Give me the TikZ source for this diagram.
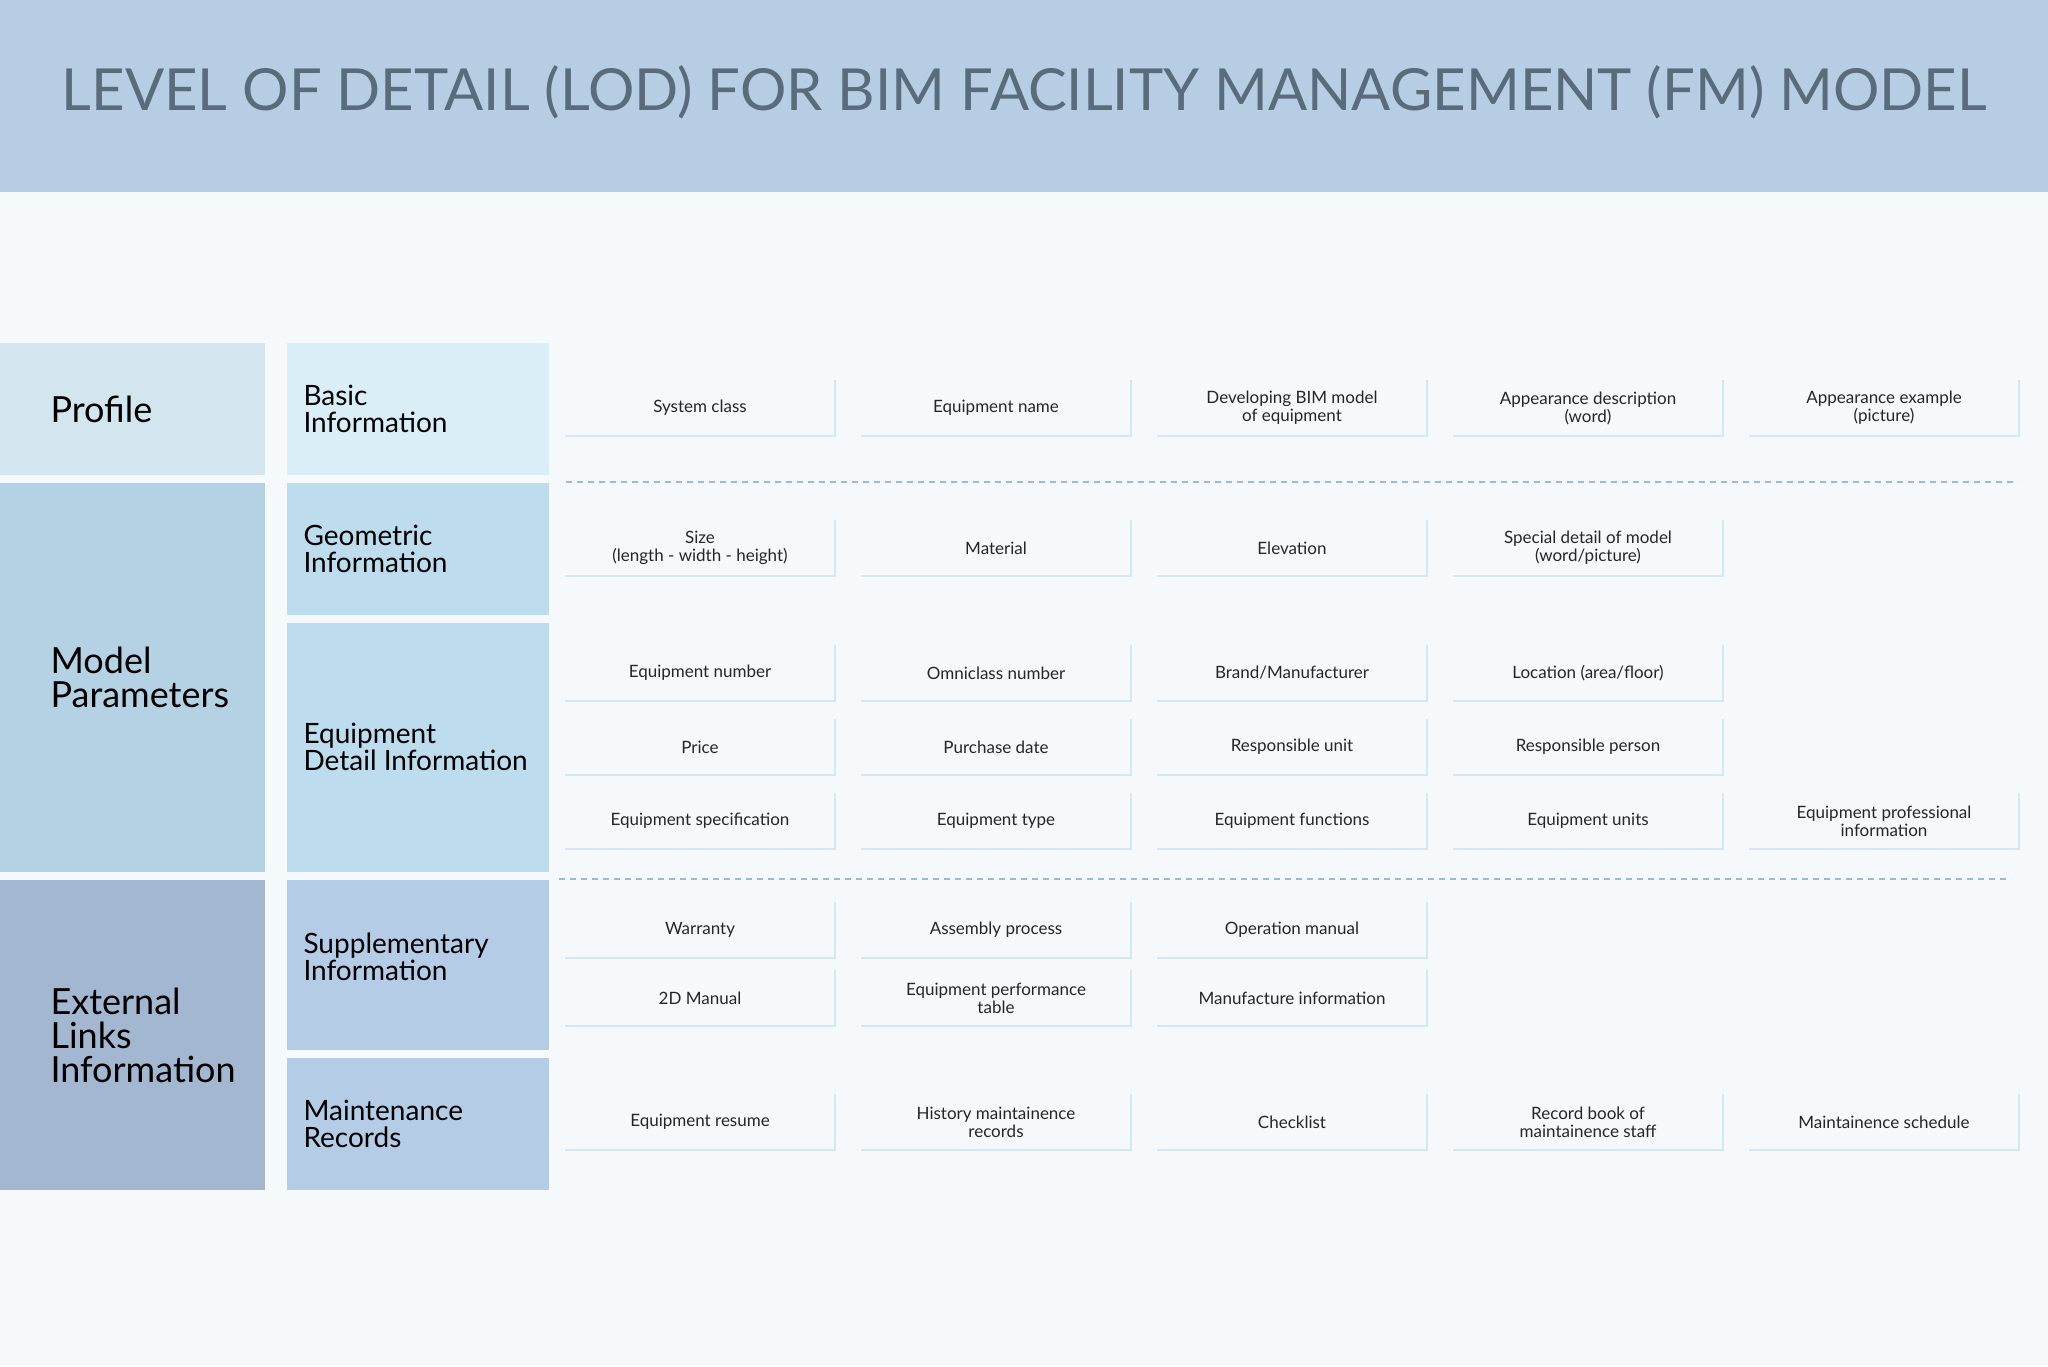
\documentclass[tikz,border=0pt]{standalone}
\usepackage{fontspec}
\setmainfont{Lato}
\usetikzlibrary{positioning}
\definecolor{HeadBlue}{HTML}{B7CDE4}
\definecolor{PageBg}{HTML}{F5F9FC}
\definecolor{TitleGrey}{HTML}{5A6B7B}
\definecolor{ProfBlue}{HTML}{D3E6F0}
\definecolor{BasicBlue}{HTML}{DAEEF7}
\definecolor{ModelBlue}{HTML}{B5D1E4}
\definecolor{GeoBlue}{HTML}{BDDCEE}
\definecolor{ExtBlue}{HTML}{A3B7D1}
\definecolor{SuppBlue}{HTML}{B5CCE6}
\definecolor{CellLine}{HTML}{D6E7F2}
\definecolor{DashBlue}{HTML}{9DB8D8}
\tikzset{
	grp/.style={anchor=north west,inner sep=0pt,text width=#1,align=left},
	cell/.style={minimum width=269pt,minimum height=55pt,inner sep=0pt,align=center,
		font=\fontsize{17}{18}\selectfont,text=black!85},
	sep/.style={DashBlue,line width=2.5pt,dash pattern=on 6pt off 5pt}
}
% one box of a table row: name, column, center y, text
\newcommand{\lodcell}[4]{%
	\node[cell] (#1) at ({700+296*(#2-1)},#3) {#4};
	\draw[CellLine,line width=2pt] (#1.north east) -- (#1.south east) -- (#1.south west);}

\begin{document}
\begin{tikzpicture}[x=1pt,y=-1pt]
	\fill[PageBg] (0,0) rectangle (2048,1366);
	\fill[HeadBlue] (0,0) rectangle (2048,192);
	\node[text=TitleGrey,font=\fontsize{58}{60}\selectfont] (title) at (1024,92) {LEVEL OF DETAIL (LOD) FOR BIM FACILITY MANAGEMENT (FM) MODEL};
	% first column
	\fill[ProfBlue] (0,343) rectangle (265,475);
	\fill[ModelBlue] (0,483) rectangle (265,872);
	\fill[ExtBlue] (0,880) rectangle (265,1190);
	\node[font=\fontsize{36}{34}\selectfont,anchor=west] (prof) at (47,409) {Profile};
	\node[font=\fontsize{36}{34}\selectfont,anchor=west,align=left] (model) at (47,677) {Model\\Parameters};
	\node[font=\fontsize{36}{34}\selectfont,anchor=west,align=left] (ext) at (47,1035) {External\\Links\\Information};
	% second column
	\fill[BasicBlue] (287,343) rectangle (549,475);
	\fill[GeoBlue] (287,483) rectangle (549,615);
	\fill[GeoBlue] (287,623) rectangle (549,872);
	\fill[SuppBlue] (287,880) rectangle (549,1050);
	\fill[SuppBlue] (287,1058) rectangle (549,1190);
	\foreach \nm/\y/\txt in {basic/409/{Basic\\Information},geo/549/{Geometric\\Information},
		detail/747/{Equipment\\Detail Information},supp/957/{Supplementary\\Information},
		maint/1124/{Maintenance\\Records}}
		\node[font=\fontsize{28}{27}\selectfont,anchor=west,align=left] (\nm) at (300,\y) {\txt};
	% separators
	\draw[sep] (566,482) -- (2018,482);
	\draw[sep] (559,879) -- (2011,879);
	% cells
	\lodcell{b1}{1}{408}{System class}
	\lodcell{b2}{2}{408}{Equipment name}
	\lodcell{b3}{3}{408}{Developing BIM model\\of equipment}
	\lodcell{b4}{4}{408}{Appearance description\\(word)}
	\lodcell{b5}{5}{408}{Appearance example\\(picture)}
	\lodcell{g1}{1}{548}{Size\\(length - width - height)}
	\lodcell{g2}{2}{548}{Material}
	\lodcell{g3}{3}{548}{Elevation}
	\lodcell{g4}{4}{548}{Special detail of model\\(word/picture)}
	\lodcell{e1}{1}{673}{Equipment number}
	\lodcell{e2}{2}{673}{Omniclass number}
	\lodcell{e3}{3}{673}{Brand/Manufacturer}
	\lodcell{e4}{4}{673}{Location (area/floor)}
	\lodcell{p1}{1}{747}{Price}
	\lodcell{p2}{2}{747}{Purchase date}
	\lodcell{p3}{3}{747}{Responsible unit}
	\lodcell{p4}{4}{747}{Responsible person}
	\lodcell{s1}{1}{821}{Equipment specification}
	\lodcell{s2}{2}{821}{Equipment type}
	\lodcell{s3}{3}{821}{Equipment functions}
	\lodcell{s4}{4}{821}{Equipment units}
	\lodcell{s5}{5}{821}{Equipment professional\\information}
	\lodcell{w1}{1}{930}{Warranty}
	\lodcell{w2}{2}{930}{Assembly process}
	\lodcell{w3}{3}{930}{Operation manual}
	\lodcell{m1}{1}{998}{2D Manual}
	\lodcell{m2}{2}{998}{Equipment performance\\table}
	\lodcell{m3}{3}{998}{Manufacture information}
	\lodcell{r1}{1}{1122}{Equipment resume}
	\lodcell{r2}{2}{1122}{History maintainence\\records}
	\lodcell{r3}{3}{1122}{Checklist}
	\lodcell{r4}{4}{1122}{Record book of\\maintainence staff}
	\lodcell{r5}{5}{1122}{Maintainence schedule}
\end{tikzpicture}
\end{document}
